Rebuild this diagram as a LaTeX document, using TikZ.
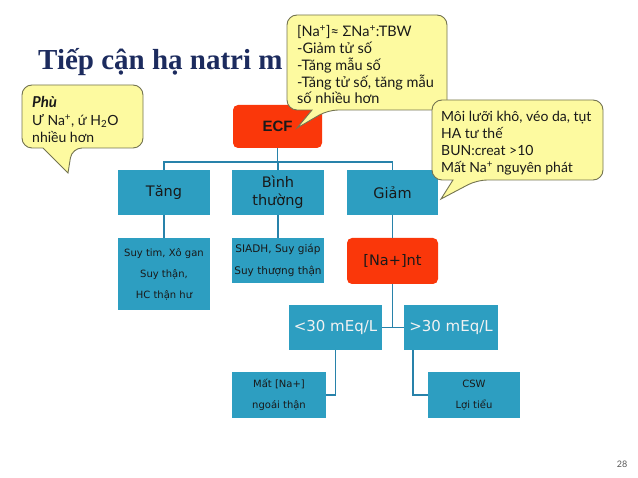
\documentclass[tikz,border=0pt]{standalone}
\usepackage{fontspec}
\setmainfont{Lato}
\newfontfamily\titlefont{Liberation Serif}
\newfontfamily\boxfont{DejaVu Sans}
\newfontfamily\ecffont{Liberation Sans}
\newfontfamily\callfont{Lato}
\usetikzlibrary{calc}
\definecolor{boxteal}{RGB}{45,158,193}
\definecolor{boxred}{RGB}{250,55,10}
\definecolor{callfill}{RGB}{253,250,160}
\definecolor{callline}{RGB}{115,115,80}
\definecolor{connc}{RGB}{40,130,170}
\definecolor{titlec}{RGB}{28,43,94}
\definecolor{txtdark}{RGB}{25,25,25}
\tikzset{
  tealbox/.style={fill=boxteal, inner sep=0pt, align=center, text=txtdark, font=\boxfont\fontsize{14.5}{18}\selectfont},
  smallbox/.style={tealbox, font=\boxfont\fontsize{10}{21}\selectfont},
  mqbox/.style={tealbox, text=white!95!black, font=\boxfont\fontsize{15}{18}\selectfont},
  redbox/.style={fill=boxred, rounded corners=5pt, inner sep=0pt, align=center, text=txtdark},
  conn/.style={draw=connc, line width=1.5pt},
  callbox/.style={fill=callfill, draw=callline, line width=0.9pt},
  calltext/.style={anchor=base west, align=left, inner sep=0pt, text=txtdark, font=\callfont\fontsize{14}{17}\selectfont},
}
\begin{document}
\begin{tikzpicture}[x=1pt,y=-1pt]
\useasboundingbox (0,0) rectangle (638,478);
% title
\node[anchor=base west, inner sep=0pt, text=titlec, font=\titlefont\bfseries\fontsize{29}{31}\selectfont] (title) at (38,70) {Tiếp cận hạ natri m};
% boxes
\node[redbox, minimum width=89pt, minimum height=43pt, font=\ecffont\bfseries\fontsize{15}{18}\selectfont] (ecf) at (277.5,126.5) {ECF};
\node[tealbox, minimum width=92pt, minimum height=45pt] (tang) at (164,192.5) {Tăng};
\node[tealbox, minimum width=92pt, minimum height=45pt] (binh) at (278,192.5) {Bình\\thường};
\node[tealbox, minimum width=91pt, minimum height=45pt] (giam) at (392.5,192.5) {Giảm};
\node[smallbox, minimum width=92pt, minimum height=72pt] (tangc) at (164,274) {Suy tim, Xô gan\\Suy thận,\\HC thận hư};
\node[smallbox, minimum width=92pt, minimum height=45pt, font=\boxfont\fontsize{10.5}{22}\selectfont] (binhc) at (278,260.5) {SIADH, Suy giáp\\Suy thượng thận};
\node[redbox, minimum width=91pt, minimum height=46pt, font=\boxfont\fontsize{14.5}{17}\selectfont] (nant) at (392.5,261) {[Na+]nt};
\node[mqbox, minimum width=93pt, minimum height=45pt] (lt30) at (335.5,327.5) {<30 mEq/L};
\node[mqbox, minimum width=94pt, minimum height=45pt] (gt30) at (451,327.5) {>30 mEq/L};
\node[smallbox, minimum width=94pt, minimum height=46pt] (mat) at (279,395) {Mất [Na+]\\ngoái thận};
\node[smallbox, minimum width=92pt, minimum height=46pt] (csw) at (474,395) {CSW\\Lợi tiểu};
% connectors
\coordinate (bus) at ($(ecf.south)+(0,14)$);
\draw[conn] (ecf.south) -- (bus);
\draw[conn] (tang.north) |- (bus) -| (giam.north);
\draw[conn] (binh.north) -- (binh.north |- bus);
\draw[conn] (tang.south) -- (tangc.north);
\draw[conn] (binh.south) -- (binhc.north);
\draw[conn] (giam.south) -- (nant.north);
\draw[conn] (nant.south) -- (nant.south |- lt30.east);
\draw[conn] (lt30.east) -- (gt30.west);
\draw[conn] (lt30.south) |- (mat.east);
\coordinate (gtdrop) at ($(gt30.south west)+(9,0)$);
\draw[conn] (gtdrop) |- (csw.west);
% callouts
\draw[callbox] (297,128) -- (312,110) [rounded corners=10pt] -- (287,110) -- (287,15) -- (447,15) -- (447,110) -- (328,110) [sharp corners] -- cycle;
\node[calltext, font=\callfont\fontsize{14.5}{16.8}\selectfont] (c1) at (297,104) {[Na\textsuperscript{+}]≈ ΣNa\textsuperscript{+}:TBW\\-Giảm tử số\\-Tăng mẫu số\\-Tăng tử số, tăng mẫu\\số nhiều hơn};
\draw[callbox] (68,173) -- (43,148) [rounded corners=10pt] -- (22,148) -- (22,85) -- (143,85) -- (143,148) -- (72,148) [sharp corners] -- cycle;
\node[calltext, font=\callfont\fontsize{14}{17.5}\selectfont] (c2) at (32,143) {\fontsize{15}{17.5}\selectfont\textbf{\textit{Phù}}\\Ư Na\textsuperscript{+}, ứ H\textsubscript{2}O\\nhiều hơn};
\draw[callbox] (441,199) -- (453,180) [rounded corners=10pt] -- (432,180) -- (432,100) -- (603,100) -- (603,180) -- (477,180) [sharp corners] -- cycle;
\node[calltext] (c3) at (441,173) {Môi lưỡi khô, véo da, tụt\\HA tư thế\\BUN:creat >10\\Mất Na\textsuperscript{+} nguyên phát};
% page number
\node[inner sep=0pt, text=black!65, font=\callfont\fontsize{9}{10}\selectfont] (pg) at (622,464) {28};
\end{tikzpicture}
\end{document}
